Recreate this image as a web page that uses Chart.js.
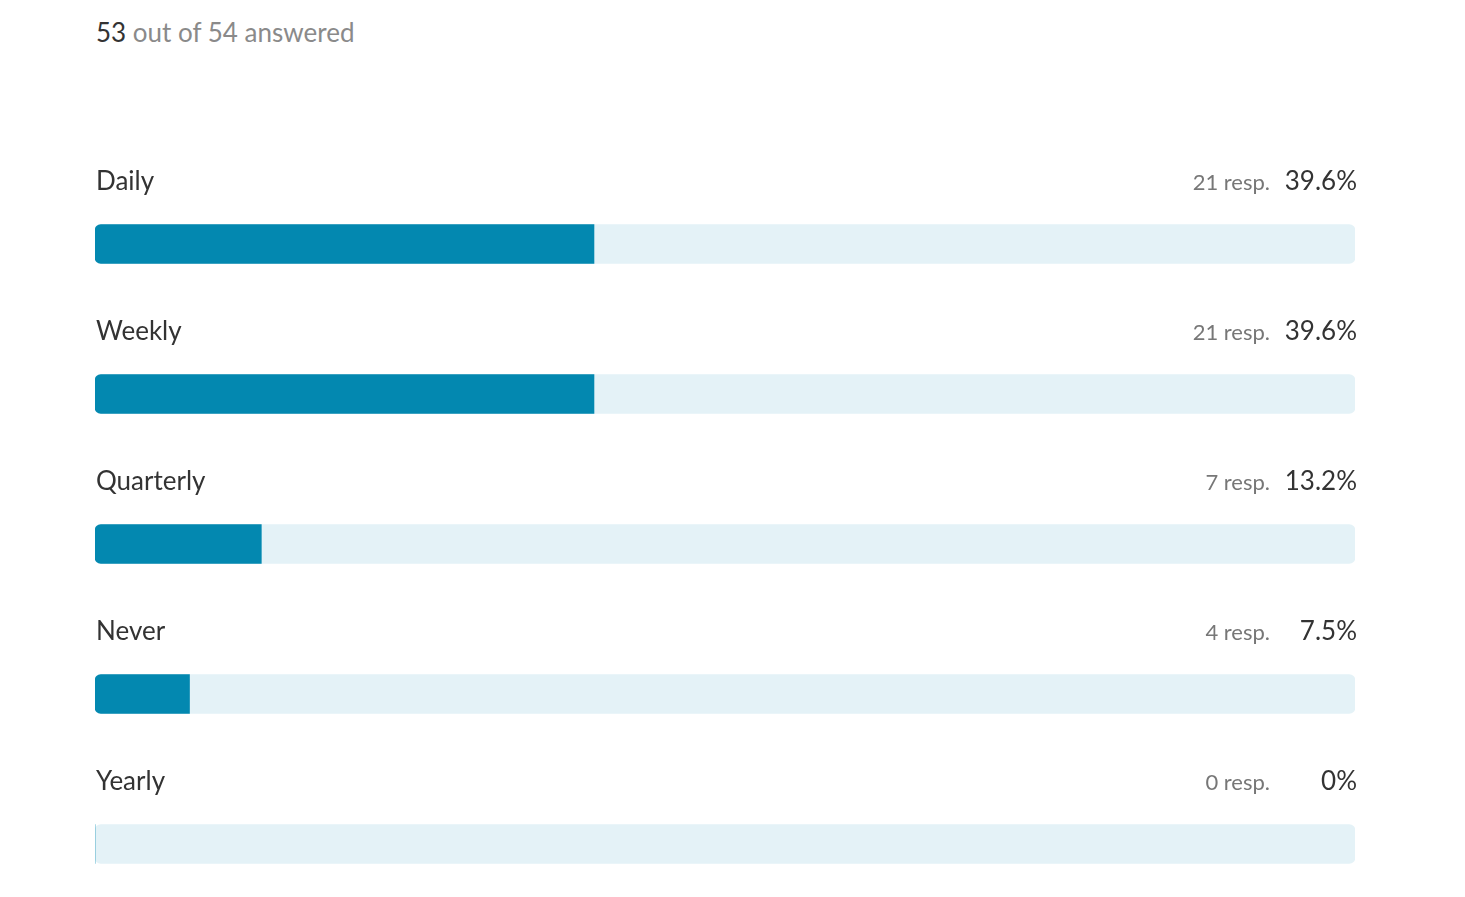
<!DOCTYPE html>
<html><head><meta charset="utf-8">
<script src="https://cdn.jsdelivr.net/npm/chart.js@4"></script>
<style>
html,body{margin:0;padding:0;background:#fff;overflow:hidden;width:1465px;height:897px}
#hdr{position:absolute;left:96px;top:16px;font-family:"Source Sans Pro",Lato,"Open Sans",sans-serif;font-size:26px;color:#8a8a8a}
#hdr b{font-weight:normal;color:#333}
#wrap{position:absolute;left:0;top:0;width:1465px;height:940px}
</style></head><body>
<div id="hdr"><b>53</b> out of 54 answered</div>
<div id="wrap"><canvas id="c"></canvas></div>
<script>
const categories=["Daily","Weekly","Quarterly","Never","Yearly"];
const responses=[21,21,7,4,0];
const percents=[39.6,39.6,13.2,7.5,0];
const percentLabels=["39.6%","39.6%","13.2%","7.5%","0%"];
const track=categories.map(()=>100);
const FONT='"Source Sans Pro",Lato,"Open Sans",sans-serif';
const labelsPlugin={id:'lbl',afterDatasetsDraw(ch){
  const ctx=ch.ctx,y=ch.scales.y;ctx.save();ctx.textBaseline='alphabetic';
  categories.forEach((c,i)=>{
    const cy=y.getPixelForValue(i)-54;
    ctx.font='26px '+FONT;ctx.fillStyle='#333';ctx.textAlign='left';
    ctx.fillText(c,96,cy);
    ctx.textAlign='right';ctx.fillText(percentLabels[i],1357,cy);
    ctx.font='22px '+FONT;ctx.fillStyle='#777';
    ctx.fillText(responses[i]+' resp.',1270,cy);
  });ctx.restore();}};
new Chart(document.getElementById('c'),{type:'bar',
 data:{labels:categories,datasets:[
  {data:percents,backgroundColor:'#0388b0',borderRadius:{topLeft:6,bottomLeft:6,topRight:0,bottomRight:0},borderSkipped:false,barThickness:39,order:0},
  {data:track,backgroundColor:'#e4f2f7',borderRadius:6,borderSkipped:false,barThickness:39,order:1}
 ]},
 options:{indexAxis:'y',responsive:true,maintainAspectRatio:false,animation:false,
  datasets:{bar:{grouped:false}},
  layout:{padding:{left:95,right:110,top:169,bottom:21}},
  plugins:{legend:{display:false},tooltip:{enabled:false}},
  scales:{x:{min:0,max:100,display:false},y:{display:false}}},
 plugins:[labelsPlugin]});
</script></body></html>
